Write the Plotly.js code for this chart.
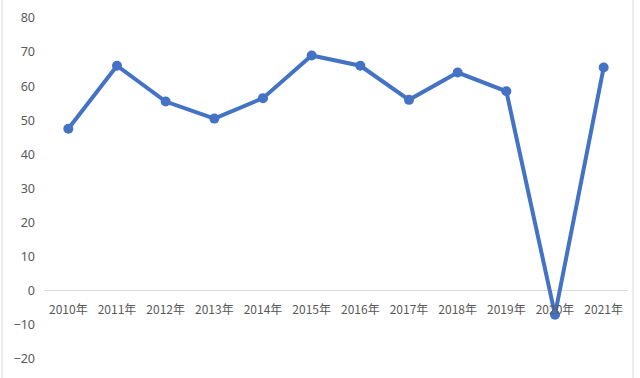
<!DOCTYPE html>
<html>
<head>
<meta charset="utf-8">
<script src="https://cdn.plot.ly/plotly-3.0.1.min.js"></script>
<style>html,body{margin:0;padding:0;background:#fff;}#chart{width:640px;height:378px;}</style>
</head>
<body>
<div id="chart"></div>
<script>
const categories = ["2010年","2011年","2012年","2013年","2014年","2015年","2016年","2017年","2018年","2019年","2020年","2021年"];
const values = [47.5, 66, 55.5, 50.5, 56.5, 69, 66, 56, 64, 58.5, -7, 65.5];
const yTicks = [-20, -10, 0, 10, 20, 30, 40, 50, 60, 70, 80];

const W = 640, ML = 44, MR = 12;
const pw = W - ML - MR;
const px = x => (x - ML) / pw;

const trace = {
  x: categories,
  y: values,
  type: "scatter",
  mode: "lines+markers",
  line: {color: "#4472C4", width: 4},
  marker: {color: "#4472C4", size: 10},
  cliponaxis: false,
  hoverinfo: "skip"
};

const layout = {
  width: 640, height: 378,
  margin: {l: ML, r: MR, t: 18, b: 19},
  paper_bgcolor: "#fff", plot_bgcolor: "rgba(0,0,0,0)",
  showlegend: false,
  font: {family: "Noto Sans CJK SC, Noto Sans, sans-serif", color: "#595959"},
  xaxis: {
    type: "category",
    range: [-0.5, 11.5],
    anchor: "free",
    position: 0.2,
    showline: false, showgrid: false, zeroline: false,
    ticks: "",
    tickfont: {size: 12, color: "#595959", family: "Noto Sans CJK SC"},
    ticklabelstandoff: 10,
    fixedrange: true
  },
  yaxis: {
    range: [-20, 80],
    tickvals: yTicks,
    ticktext: yTicks.map(v => v < 0 ? "\u2212" + Math.abs(v) : String(v)),
    showgrid: false,
    zeroline: true, zerolinecolor: "#d9d9d9", zerolinewidth: 1,
    showline: false,
    ticks: "",
    ticklabelstandoff: 8,
    tickfont: {size: 12.5, color: "#595959", family: "Noto Sans, sans-serif"},
    fixedrange: true
  },
  shapes: [
    {type: "line", xref: "paper", yref: "paper", x0: px(2), x1: px(2), y0: -1, y1: 2, line: {color: "#d9d9d9", width: 1}},
    {type: "line", xref: "paper", yref: "paper", x0: px(633), x1: px(633), y0: -1, y1: 2, line: {color: "#d9d9d9", width: 1}}
  ]
};

Plotly.newPlot("chart", [trace], layout, {displayModeBar: false, staticPlot: true});
</script>
</body>
</html>
